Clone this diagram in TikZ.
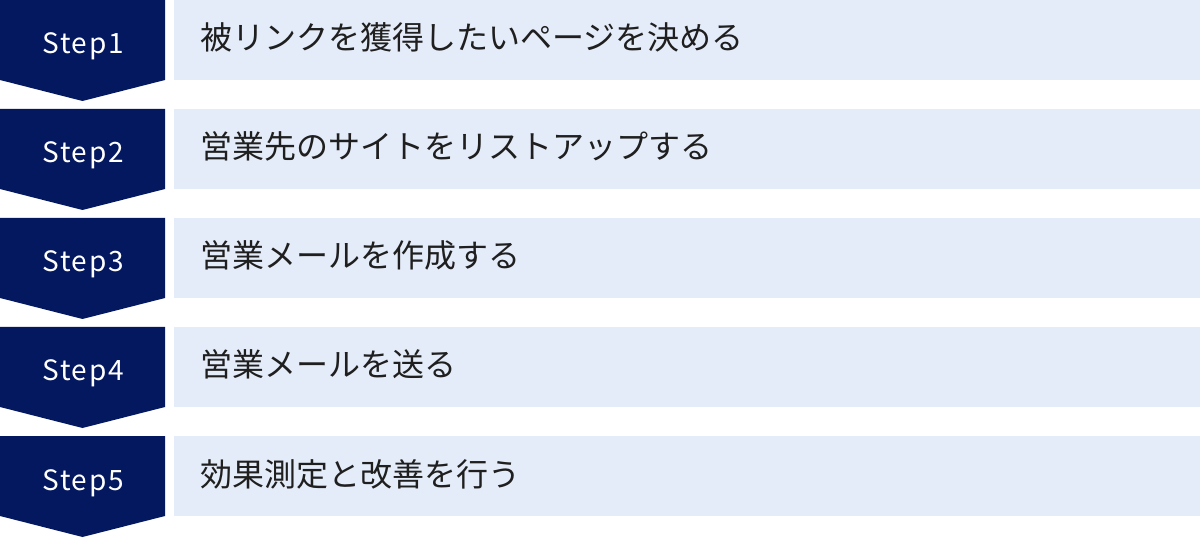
\documentclass[tikz,border=0pt]{standalone}
\usepackage{fontspec}
\setmainfont{Noto Sans CJK JP}
\newfontfamily\steplabelfont[LetterSpace=6]{Noto Sans CJK JP}
\usetikzlibrary{calc}
\definecolor{stepnavy}{RGB}{4,24,96}
\definecolor{rowblue}{RGB}{229,236,249}
\tikzset{
	steplabel/.style={text=white, font=\steplabelfont\fontsize{21pt}{24pt}\selectfont, anchor=base},
	rowtext/.style={text=black!88, font=\fontsize{24pt}{28pt}\selectfont, anchor=base west, inner sep=0pt}
}

\begin{document}
\begin{tikzpicture}[x=0.75pt, y=-0.75pt]
			%%%%% START %%%%%
			\useasboundingbox (0, 0) rectangle (1200, 538);
			
			% Step1
			\draw[fill=stepnavy, draw=none] (0, 0) -- (165, 0) -- (165, 80) -- (82.5, 101) -- (0, 80) -- cycle;
			\draw[fill=rowblue, draw=none] (174, 0) rectangle (1200, 80);
			\node[steplabel] (s1) at (83, 54) {Step1};
			\node[rowtext] (t1) at (200, 50) {被リンクを獲得したいページを決める};
			
			% Step2
			\draw[fill=stepnavy, draw=none] (0, 109) -- (165, 109) -- (165, 189) -- (82.5, 210) -- (0, 189) -- cycle;
			\draw[fill=rowblue, draw=none] (174, 109) rectangle (1200, 189);
			\node[steplabel] (s2) at (83, 163) {Step2};
			\node[rowtext] (t2) at (200, 159) {営業先のサイトをリストアップする};
			
			% Step3
			\draw[fill=stepnavy, draw=none] (0, 218) -- (165, 218) -- (165, 298) -- (82.5, 319) -- (0, 298) -- cycle;
			\draw[fill=rowblue, draw=none] (174, 218) rectangle (1200, 298);
			\node[steplabel] (s3) at (83, 272) {Step3};
			\node[rowtext] (t3) at (200, 268) {営業メールを作成する};
			
			% Step4
			\draw[fill=stepnavy, draw=none] (0, 327) -- (165, 327) -- (165, 407) -- (82.5, 428) -- (0, 407) -- cycle;
			\draw[fill=rowblue, draw=none] (174, 327) rectangle (1200, 407);
			\node[steplabel] (s4) at (83, 381) {Step4};
			\node[rowtext] (t4) at (200, 377) {営業メールを送る};
			
			% Step5
			\draw[fill=stepnavy, draw=none] (0, 436) -- (165, 436) -- (165, 516) -- (82.5, 537) -- (0, 516) -- cycle;
			\draw[fill=rowblue, draw=none] (174, 436) rectangle (1200, 516);
			\node[steplabel] (s5) at (83, 490) {Step5};
			\node[rowtext] (t5) at (200, 486) {効果測定と改善を行う};
			
			%%%%% END %%%%%
\end{tikzpicture}
\end{document}
